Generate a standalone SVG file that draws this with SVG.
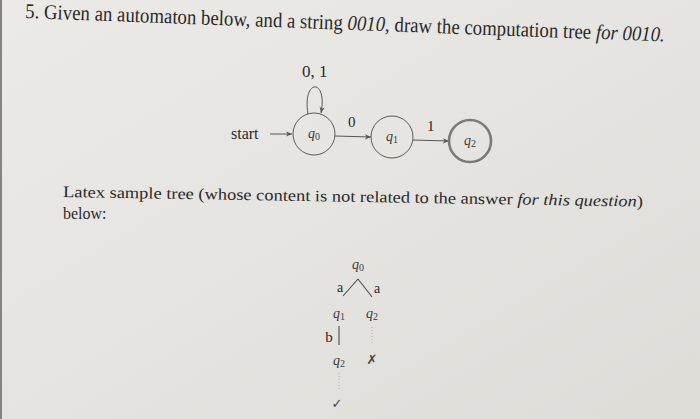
<svg xmlns="http://www.w3.org/2000/svg" width="700" height="419" viewBox="0 0 700 419">
  <defs>
    <linearGradient id="bg" x1="0" y1="0" x2="1" y2="1">
      <stop offset="0" stop-color="#ebeae7"/>
      <stop offset="0.5" stop-color="#e6e4e0"/>
      <stop offset="1" stop-color="#dedcd7"/>
    </linearGradient>
    <marker id="arr" viewBox="0 0 8 8" refX="7" refY="4" markerWidth="7" markerHeight="7" markerUnits="userSpaceOnUse" orient="auto">
      <path d="M0,1 L7,4 L0,7 L2,4 z" fill="#555"/>
    </marker>
  </defs>
  <style>
    .txt { font-family: "Liberation Serif", "DejaVu Serif", serif; fill: #2a2a2a; }
    .math { font-family: "Liberation Serif", "DejaVu Serif", serif; font-style: italic; fill: #3a3a3a; }
    .state { fill: none; stroke: #5a5a5a; stroke-width: 1; }
    .acc { fill: none; stroke: #7a7a78; stroke-width: 2.6; }
    .edge { fill: none; stroke: #555; stroke-width: 1; }
    .tedge { fill: none; stroke: #4a4a4a; stroke-width: 1.1; }
    .dots { fill: none; stroke: #b0aea9; stroke-width: 1; stroke-dasharray: 1 2; }
    .sym { font-family: "DejaVu Sans", sans-serif; fill: #444; }
  </style>

  <rect x="0" y="0" width="700" height="419" fill="url(#bg)"/>
  <line x1="1" y1="0" x2="1" y2="419" stroke="#858380" stroke-width="2"/>

  <!-- Title -->
  <g id="title" transform="rotate(2.1 25 18)">
    <text class="txt" x="25" y="18" font-size="21" textLength="640" lengthAdjust="spacingAndGlyphs">5. Given an automaton below, and a string <tspan font-style="italic">0010</tspan>, draw the computation tree <tspan font-style="italic">for 0010.</tspan></text>
  </g>

  <!-- Connectors -->
  <g id="connectors">
    <line class="edge" x1="270" y1="134" x2="292" y2="134" marker-end="url(#arr)"/>
    <path class="edge" d="M308,114 C302,78 328,78 321,113" marker-end="url(#arr)"/>
    <line class="edge" x1="335" y1="136" x2="371" y2="137" marker-end="url(#arr)"/>
    <line class="edge" x1="413" y1="140" x2="449" y2="141" marker-end="url(#arr)"/>
    <line class="tedge" x1="343" y1="296" x2="358" y2="279"/>
    <line class="tedge" x1="358" y1="279" x2="372" y2="297"/>
    <line class="tedge" x1="339" y1="326" x2="339" y2="345"/>
    <line class="dots" x1="372" y1="327" x2="372" y2="345"/>
    <line class="dots" x1="339" y1="373" x2="339" y2="391"/>
  </g>

  <!-- Automaton labels -->
  <text class="txt" x="231" y="139" font-size="16">start</text>
  <text class="txt" x="302" y="77" font-size="17">0, 1</text>
  <text class="txt" x="348" y="127" font-size="15">0</text>
  <text class="txt" x="427" y="131" font-size="15">1</text>

  <g id="q0">
    <circle class="state" cx="314" cy="134" r="21"/>
    <text class="math" x="314" y="138" font-size="14" text-anchor="middle">q<tspan font-size="10" dy="2" font-style="normal">0</tspan></text>
  </g>
  <g id="q1">
    <circle class="state" cx="392" cy="137" r="21"/>
    <text class="math" x="392" y="141" font-size="14" text-anchor="middle">q<tspan font-size="10" dy="2" font-style="normal">1</tspan></text>
  </g>
  <g id="q2">
    <circle class="acc" cx="470" cy="141" r="21"/>
    <text class="math" x="470" y="145" font-size="14" text-anchor="middle">q<tspan font-size="10" dy="2" font-style="normal">2</tspan></text>
  </g>

  <!-- Paragraph -->
  <g id="para" transform="rotate(0.95 63 197)">
    <text class="txt" x="63" y="197" font-size="16" textLength="580" lengthAdjust="spacingAndGlyphs">Latex sample tree (whose content is not related to the answer <tspan font-style="italic">for this question</tspan>)</text>
  </g>
  <text class="txt" x="63" y="219" font-size="16">below:</text>

  <!-- Tree -->
  <g id="t-root">
    <text class="math" x="358" y="269" font-size="14" text-anchor="middle">q<tspan font-size="10" dy="2" font-style="normal">0</tspan></text>
  </g>
  <text class="txt" x="340" y="292" font-size="14" text-anchor="middle">a</text>
  <text class="txt" x="377" y="293" font-size="14" text-anchor="middle">a</text>
  <g id="t-q1">
    <text class="math" x="339" y="318" font-size="14" text-anchor="middle">q<tspan font-size="10" dy="2" font-style="normal">1</tspan></text>
  </g>
  <g id="t-q2a">
    <text class="math" x="372" y="318" font-size="14" text-anchor="middle">q<tspan font-size="10" dy="2" font-style="normal">2</tspan></text>
  </g>
  <text class="txt" x="329" y="342" font-size="15" text-anchor="middle">b</text>
  <g id="t-q2b">
    <text class="math" x="339" y="365" font-size="14" text-anchor="middle">q<tspan font-size="10" dy="2" font-style="normal">2</tspan></text>
  </g>
  <g id="t-reject">
    <text class="sym" x="372" y="364" font-size="13" text-anchor="middle">✗</text>
  </g>
  <g id="t-accept">
    <text class="sym" x="337" y="408" font-size="13" text-anchor="middle">✓</text>
  </g>
</svg>
